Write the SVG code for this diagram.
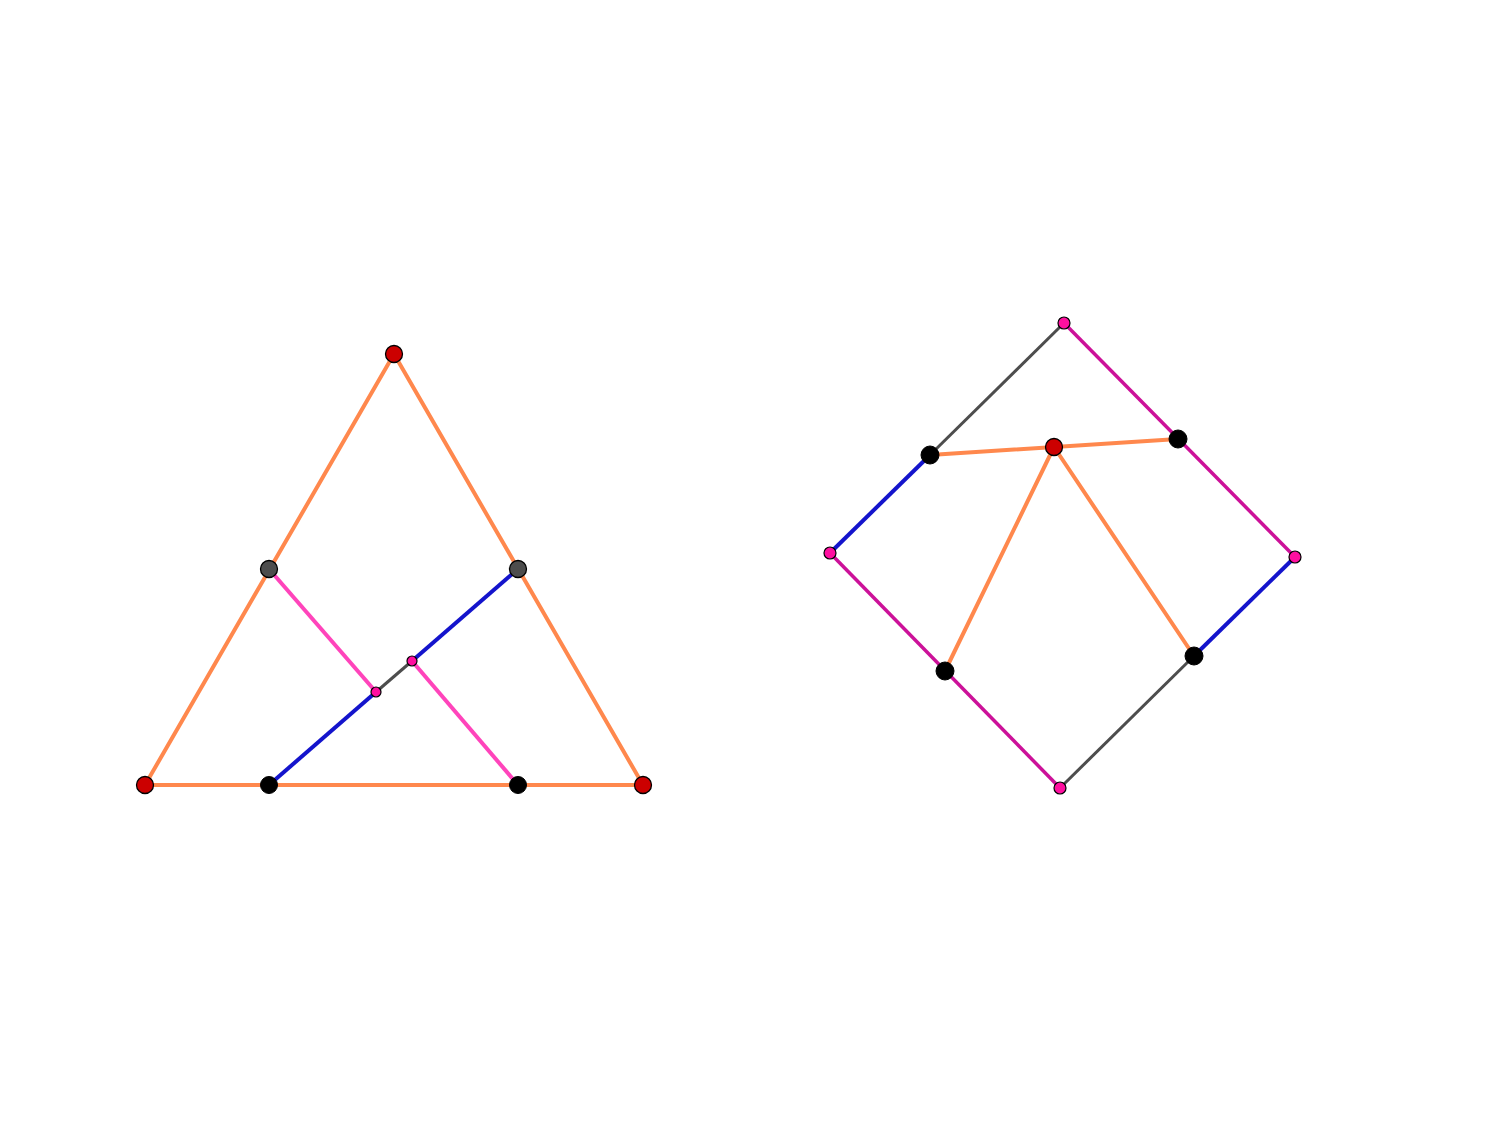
<svg xmlns="http://www.w3.org/2000/svg" width="1500" height="1125" viewBox="0 0 1500 1125">
<style>
.o{stroke:#ff884d;stroke-width:4;fill:none;stroke-linecap:round}
.p{stroke:#ff44bb;stroke-width:4;fill:none}
.m{stroke:#cc1199;stroke-width:3.5;fill:none}
.b{stroke:#1414cc;stroke-width:4;fill:none}
.g{stroke:#4d4d4d;stroke-width:3;fill:none}
.red{fill:#cc0000;stroke:#000;stroke-width:1.3}
.blk{fill:#000;stroke:#000;stroke-width:1}
.dg{fill:#4d4d4d;stroke:#000;stroke-width:1.3}
.sp{fill:#ff0fa0;stroke:#000;stroke-width:1.2}
</style>
<rect width="1500" height="1125" fill="#fff"/>
<g id="connectors">
<line class="o" x1="145" y1="785" x2="394" y2="354"/>
<line class="o" x1="394" y1="354" x2="643" y2="785"/>
<line class="o" x1="145" y1="785" x2="643" y2="785"/>
<line class="p" x1="269" y1="569" x2="376" y2="692"/>
<line class="p" x1="412" y1="661" x2="518" y2="785"/>
<line class="b" x1="269" y1="785" x2="376" y2="692"/>
<line class="b" x1="412" y1="661" x2="518" y2="569"/>
<line class="g" x1="376" y1="692" x2="412" y2="661"/>
<line class="g" x1="1064" y1="323" x2="930" y2="455"/>
<line class="b" x1="930" y1="455" x2="830" y2="553"/>
<line class="m" x1="830" y1="553" x2="1060" y2="788"/>
<line class="g" x1="1060" y1="788" x2="1194" y2="656"/>
<line class="b" x1="1194" y1="656" x2="1295" y2="557"/>
<line class="m" x1="1295" y1="557" x2="1064" y2="323"/>
<line class="o" x1="930" y1="455" x2="1178" y2="439"/>
<line class="o" x1="1054" y1="447" x2="945" y2="671"/>
<line class="o" x1="1054" y1="447" x2="1194" y2="656"/>
</g>
<g id="n1"><circle class="red" cx="394" cy="354" r="8.5"/></g>
<g id="n2"><circle class="red" cx="145" cy="785" r="8.5"/></g>
<g id="n3"><circle class="red" cx="643" cy="785" r="8.5"/></g>
<g id="n4"><circle class="dg" cx="269" cy="569" r="8.5"/></g>
<g id="n5"><circle class="dg" cx="518" cy="569" r="8.5"/></g>
<g id="n6"><circle class="blk" cx="269" cy="785" r="8.5"/></g>
<g id="n7"><circle class="blk" cx="518" cy="785" r="8.5"/></g>
<g id="n8"><circle class="sp" cx="376" cy="692" r="5"/></g>
<g id="n9"><circle class="sp" cx="412" cy="661" r="5"/></g>
<g id="n10"><circle class="sp" cx="1064" cy="323" r="6"/></g>
<g id="n11"><circle class="sp" cx="830" cy="553" r="6"/></g>
<g id="n12"><circle class="sp" cx="1060" cy="788" r="6"/></g>
<g id="n13"><circle class="sp" cx="1295" cy="557" r="6"/></g>
<g id="n14"><circle class="blk" cx="930" cy="455" r="9"/></g>
<g id="n15"><circle class="blk" cx="1178" cy="439" r="9"/></g>
<g id="n16"><circle class="blk" cx="945" cy="671" r="9"/></g>
<g id="n17"><circle class="blk" cx="1194" cy="656" r="9"/></g>
<g id="n18"><circle class="red" cx="1054" cy="447" r="8.5"/></g>
</svg>
